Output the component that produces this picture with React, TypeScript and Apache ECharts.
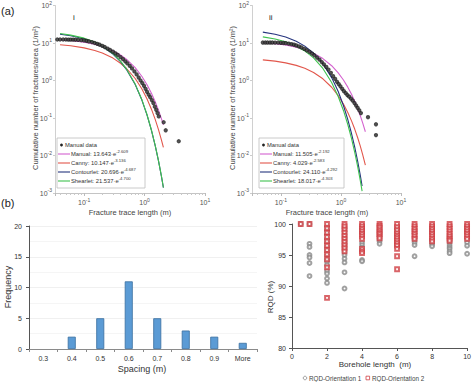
import React, { useEffect, useRef } from "react";
import * as echarts from "echarts";

const FONT = "'Liberation Sans', Arial, Helvetica, sans-serif";

// ---------- (a) i : fracture trace length (m) vs cumulative number / area ----------
const fitLengthsI = [0.04, 0.06, 0.1, 0.15, 0.2, 0.3, 0.4, 0.5, 0.7, 0.9, 1.1, 1.3, 1.5, 1.7, 1.9, 2.05];
const manualFitI = [12.29, 11.67, 10.51, 9.22, 8.1, 6.24, 4.81, 3.7, 2.2, 1.3, 0.773, 0.459, 0.272, 0.162, 0.096, 0.0655];
const cannyFitI = [8.95, 8.41, 7.42, 6.34, 5.42, 3.96, 2.89, 2.12, 1.13, 0.604, 0.322, 0.172, 0.0919, 0.0491, 0.0262, 0.0164];
const contourletFitI = [17.16, 15.62, 12.95, 10.25, 8.11, 5.07, 3.17, 1.99, 0.778, 0.305, 0.119, 0.0467, 0.0183, 0.00717, 0.0028, 0.00139];
const shearletFitI = [17.85, 16.25, 13.46, 10.64, 8.41, 5.26, 3.29, 2.05, 0.802, 0.313, 0.122, 0.0478, 0.0187, 0.0073, 0.00285, 0.0014];
const manualDataI: [number, number][] = [
  [0.036, 12.4], [0.04, 12.4], [0.045, 12.4], [0.05, 12.4], [0.055, 12.3], [0.06, 12.3], [0.066, 12.3],
  [0.072, 12.2], [0.08, 12.1], [0.09, 11.9], [0.1, 11.7], [0.11, 11.4], [0.12, 11.1], [0.135, 10.6],
  [0.15, 10.0], [0.165, 9.5], [0.18, 9.0], [0.2, 8.4], [0.22, 7.8], [0.245, 7.1], [0.27, 6.5], [0.3, 5.9],
  [0.33, 5.3], [0.36, 4.8], [0.4, 4.2], [0.44, 3.7], [0.48, 3.25], [0.52, 2.85], [0.57, 2.45], [0.62, 2.1],
  [0.68, 1.75], [0.74, 1.45], [0.8, 1.2], [0.86, 1.0], [0.92, 0.85], [0.98, 0.72], [1.04, 0.6], [1.1, 0.5],
  [1.17, 0.42], [1.24, 0.36], [1.32, 0.3], [1.4, 0.25], [1.48, 0.2], [1.56, 0.165], [1.64, 0.135],
  [1.72, 0.11], [2.07, 0.077], [2.24, 0.047], [3.68, 0.024],
];

// ---------- (a) ii ----------
const fitLengthsII = [0.05, 0.08, 0.12, 0.18, 0.25, 0.35, 0.5, 0.7, 0.9, 1.1, 1.3, 1.5, 1.7, 1.9, 2.1, 2.3, 2.55];
const manualFitII = [10.31, 9.65, 8.85, 7.75, 6.65, 5.34, 3.84, 2.48, 1.6, 1.03, 0.665, 0.429, 0.277, 0.179, 0.115, 0.0743, 0.0429];
const cannyFitII = [3.54, 3.28, 2.95, 2.53, 2.11, 1.63, 1.108, 0.661, 0.394, 0.235, 0.14, 0.0837, 0.0499, 0.0298, 0.0178, 0.0106, 0.00555];
const steepLengthsII = [0.05, 0.08, 0.12, 0.18, 0.25, 0.35, 0.5, 0.7, 0.9, 1.1, 1.3, 1.5, 1.7, 1.9, 2.1, 2.25];
const contourletFitII = [19.45, 17.11, 14.41, 11.13, 8.25, 5.37, 2.82, 1.196, 0.507, 0.215, 0.0911, 0.0386, 0.01636, 0.00693, 0.00294, 0.00154];
const shearletFitII = [14.53, 12.77, 10.75, 8.3, 6.14, 4.0, 2.1, 0.886, 0.375, 0.159, 0.0671, 0.0284, 0.012, 0.00507, 0.00214, 0.00112];
const manualDataII: [number, number][] = [
  [0.05, 10.3], [0.055, 10.3], [0.06, 10.3], [0.066, 10.3], [0.072, 10.3], [0.08, 10.2], [0.09, 10.2],
  [0.1, 10.1], [0.11, 10.0], [0.12, 9.9], [0.135, 9.6], [0.15, 9.3], [0.165, 9.0], [0.18, 8.6], [0.2, 8.1],
  [0.22, 7.6], [0.245, 7.0], [0.27, 6.4], [0.3, 5.8], [0.33, 5.2], [0.36, 4.7], [0.4, 4.1], [0.44, 3.6],
  [0.48, 3.1], [0.52, 2.7], [0.57, 2.3], [0.62, 1.95], [0.68, 1.6], [0.74, 1.3], [0.8, 1.1], [0.86, 0.92],
  [0.92, 0.8], [0.98, 0.7], [1.05, 0.6], [1.12, 0.52], [1.2, 0.46], [1.28, 0.41], [1.37, 0.37], [1.47, 0.33],
  [1.57, 0.29], [1.68, 0.25], [1.79, 0.215], [1.9, 0.185], [2.02, 0.16], [2.15, 0.135], [2.82, 0.105],
  [3.83, 0.068], [3.83, 0.035],
];

// ---------- (b) left : spacing histogram ----------
const spacingCategories = ["0.3", "0.4", "0.5", "0.6", "0.7", "0.8", "0.9", "More"];
const spacingFrequency = [0, 2, 5, 11, 5, 3, 2, 1];

// ---------- (b) right : RQD vs borehole length ----------
const boreholeLengths = [0.5, 1, 2, 3, 4, 5, 6, 7, 8, 9, 10];
const rqdOrientation1 = [
  [100],
  [100, 96.8, 96.3, 95.0, 94.6, 93.7, 91.6],
  [99.6, 99.0, 98.3, 97.6, 97.0, 96.4, 95.8, 95.0, 94.3, 93.9, 93.4, 92.4, 92.0, 91.2, 90.5],
  [99.3, 98.8, 98.2, 97.7, 97.2, 96.8, 96.4, 96.0, 95.5, 95.0, 94.4, 93.8, 92.2, 89.6],
  [99.2, 98.6, 97.0, 96.6, 96.2, 94.2, 94.0],
  [99.0, 98.5, 98.0, 97.5, 97.2, 96.8],
  [99.2, 98.7, 98.2, 97.6, 97.0, 96.6],
  [99.0, 98.5, 97.8, 97.4, 97.0, 96.6, 94.8],
  [99.4, 99.0, 98.5, 97.5, 97.0, 96.7, 96.4],
  [98.2, 97.8, 97.4, 97.0, 96.6, 96.3, 96.0, 95.6, 95.3],
  [99.5, 99.0, 98.6, 97.6, 97.0, 96.5, 95.2],
];
const rqdOrientation2 = [
  [100],
  [100],
  [100, 99.3, 98.6, 97.9, 97.2, 96.5, 95.8, 95.1, 94.3, 93.0, 88.1],
  [100, 99.6, 99.1, 98.6, 98.1, 97.6, 97.1, 96.6, 96.1, 95.6],
  [100, 99.6, 99.2, 98.8, 98.4, 98.0, 97.6, 96.0, 95.6, 95.3],
  [100, 99.7, 99.4, 99.0, 98.7, 98.4, 98.0, 97.7],
  [100, 99.5, 99.0, 98.5, 98.1, 97.7, 97.3, 96.9, 96.5, 96.0, 94.8, 92.7],
  [100, 99.6, 99.2, 98.8, 98.4, 98.0, 97.6],
  [100, 99.6, 99.2, 98.8, 98.4, 98.0, 97.6, 97.2],
  [100, 99.6, 99.2, 98.8, 98.4, 98.0, 97.6, 97.3],
  [100, 99.6, 99.2, 98.8, 98.4, 98.0, 97.6],
];

const COL_MANUAL = "#d462cf";
const COL_CANNY = "#e2574c";
const COL_CONTOURLET = "#26357e";
const COL_SHEARLET = "#3fc24f";

const pairs = (xs: number[], ys: number[]) => ys.map((y, i) => [xs[i], y]);
const flatten = (lists: number[][]) => {
  const out: number[][] = [];
  lists.forEach((vals, i) => vals.forEach((v) => out.push([boreholeLengths[i], v])));
  return out;
};

const powLabel = (v: number) => {
  const n = Math.log10(v);
  const r = Math.round(n);
  if (Math.abs(n - r) > 1e-6) return "";
  return `{b|10}{s|${r}}`;
};

const powRich = {
  b: { fontSize: 7, color: "#555", fontFamily: FONT, lineHeight: 11 },
  s: { fontSize: 5, color: "#555", fontFamily: FONT, verticalAlign: "top", lineHeight: 5 },
};

function logX(gridIndex: number) {
  return {
    type: "log",
    logBase: 10,
    gridIndex,
    min: 0.033,
    max: 10,
    axisLine: { show: true, lineStyle: { color: "#c4c4c4", width: 1 } },
    axisTick: { show: true, length: 3, lineStyle: { color: "#bbb" } },
    minorTick: { show: true, splitNumber: 9, length: 2, lineStyle: { color: "#c8c8c8" } },
    splitLine: { show: false },
    axisLabel: { formatter: powLabel, rich: powRich, margin: 4, showMinLabel: false },
  };
}
function logY(gridIndex: number) {
  return {
    type: "log",
    logBase: 10,
    gridIndex,
    min: 0.001,
    max: 100,
    axisLine: { show: true, lineStyle: { color: "#d0d0d0", width: 1 } },
    axisTick: { show: true, length: 2, lineStyle: { color: "#ccc" } },
    splitLine: { show: false },
    axisLabel: { formatter: powLabel, rich: powRich, margin: 3 },
  };
}

const fitLine = (name: string, data: number[][], color: string, idx: number) => ({
  type: "line",
  name,
  xAxisIndex: idx,
  yAxisIndex: idx,
  data,
  symbol: "none",
  smooth: false,
  lineStyle: { color, width: 1.1 },
  silent: true,
  z: 2,
});

const dataScatter = (data: number[][], idx: number) => ({
  type: "scatter",
  xAxisIndex: idx,
  yAxisIndex: idx,
  data,
  symbol: "emptyCircle",
  symbolSize: 2.3,
  itemStyle: { color: "#1e1e1e", borderColor: "#1e1e1e", borderWidth: 0.7 },
  silent: true,
  z: 3,
});

const txt = (x: number, y: number, text: string, o: any = {}) => ({
  type: "text",
  x,
  y,
  rotation: o.rot || 0,
  silent: true,
  z: 10,
  style: {
    text,
    fill: o.color || "#333",
    fontSize: o.size || 8,
    fontFamily: FONT,
    fontWeight: o.weight || "normal",
    align: o.align || "left",
    verticalAlign: o.va || "middle",
    rich: o.rich,
  },
});

const legRich = {
  b: { fontSize: 5.8, fill: "#333", fontFamily: FONT, lineHeight: 9 },
  s: { fontSize: 4.2, fill: "#333", fontFamily: FONT, verticalAlign: "top", lineHeight: 4 },
};

function legend(x0: number, y0: number, w: number, h: number, rows: [string, string, string][]) {
  const children: any[] = [
    { type: "rect", shape: { x: x0, y: y0, width: w, height: h }, style: { fill: "#fff", stroke: "#bdbdbd", lineWidth: 0.8 }, z: 8 },
    { type: "circle", shape: { cx: x0 + 4.5, cy: y0 + 7, r: 1.4 }, style: { fill: "#222" }, z: 9 },
    txt(x0 + 8, y0 + 7, "{b|Manual data}", { rich: legRich }),
  ];
  rows.forEach((r, i) => {
    const y = y0 + 16 + i * 9;
    children.push({ type: "line", shape: { x1: x0 + 1, y1: y, x2: x0 + 13, y2: y }, style: { stroke: r[2], lineWidth: 1.1 }, z: 9 });
    children.push(txt(x0 + 14, y, `{b|${r[0]}}{s|${r[1]}}`, { rich: legRich }));
  });
  return children;
}

export default function App() {
  const ref = useRef<HTMLDivElement>(null);
  useEffect(() => {
    if (!ref.current) return;
    const chart = echarts.init(ref.current, undefined, { renderer: "svg" });

    const option: any = {
      animation: false,
      backgroundColor: "#ffffff",
      textStyle: { fontFamily: FONT },
      grid: [
        { left: 55, top: 4, width: 150, height: 189 },
        { left: 252, top: 4, width: 149, height: 189 },
        { left: 29, top: 226, width: 228, height: 123 },
        { left: 292, top: 224, width: 177, height: 124 },
      ],
      xAxis: [
        logX(0),
        logX(1),
        {
          type: "category",
          gridIndex: 2,
          data: spacingCategories,
          axisLine: { lineStyle: { color: "#8a8a8a" } },
          axisTick: { show: true, length: 3, lineStyle: { color: "#8a8a8a" } },
          axisLabel: { color: "#333", fontSize: 7, margin: 6, fontFamily: FONT },
        },
        {
          type: "value",
          gridIndex: 3,
          min: 0,
          max: 10,
          interval: 2,
          axisLine: { lineStyle: { color: "#555" } },
          axisTick: { show: true, length: 3, inside: false, lineStyle: { color: "#555" } },
          splitLine: { show: false },
          axisLabel: { color: "#333", fontSize: 7, margin: 5, fontFamily: FONT },
        },
      ],
      yAxis: [
        logY(0),
        logY(1),
        {
          type: "value",
          gridIndex: 2,
          min: 0,
          max: 20,
          interval: 5,
          axisLine: { show: true, lineStyle: { color: "#555" } },
          axisTick: { show: true, length: 3, lineStyle: { color: "#555" } },
          splitLine: { show: true, lineStyle: { color: "#ececec", width: 0.8 } },
          minorTick: { show: false, splitNumber: 2 },
          minorSplitLine: { show: true, lineStyle: { color: "#f2f2f2", width: 0.8 } },
          axisLabel: { color: "#333", fontSize: 7, margin: 7, fontFamily: FONT },
        },
        {
          type: "value",
          gridIndex: 3,
          min: 80,
          max: 100,
          interval: 5,
          axisLine: { show: true, lineStyle: { color: "#555" } },
          axisTick: { show: true, length: 3, lineStyle: { color: "#555" } },
          splitLine: { show: false },
          axisLabel: { color: "#333", fontSize: 7, margin: 6, fontFamily: FONT },
        },
      ],
      series: [
        fitLine("Manual", pairs(fitLengthsI, manualFitI), COL_MANUAL, 0),
        fitLine("Canny", pairs(fitLengthsI, cannyFitI), COL_CANNY, 0),
        fitLine("Contourlet", pairs(fitLengthsI, contourletFitI), COL_CONTOURLET, 0),
        fitLine("Shearlet", pairs(fitLengthsI, shearletFitI), COL_SHEARLET, 0),
        dataScatter(manualDataI, 0),
        fitLine("Manual", pairs(fitLengthsII, manualFitII), COL_MANUAL, 1),
        fitLine("Canny", pairs(fitLengthsII, cannyFitII), COL_CANNY, 1),
        fitLine("Contourlet", pairs(steepLengthsII, contourletFitII), COL_CONTOURLET, 1),
        fitLine("Shearlet", pairs(steepLengthsII, shearletFitII), COL_SHEARLET, 1),
        dataScatter(manualDataII, 1),
        {
          type: "bar",
          xAxisIndex: 2,
          yAxisIndex: 2,
          data: spacingFrequency.map((v) => (v === 0 ? { value: v, itemStyle: { borderWidth: 0 } } : v)),
          barWidth: 8,
          itemStyle: { color: "#5b9bd5", borderColor: "#3a6f9f", borderWidth: 0.8 },
          silent: true,
        },
        {
          type: "scatter",
          name: "RQD-Orientation 1",
          xAxisIndex: 3,
          yAxisIndex: 3,
          data: flatten(rqdOrientation1),
          symbol: "emptyCircle",
          symbolSize: 3.8,
          itemStyle: { color: "#8a8a8a", borderColor: "#8a8a8a", borderWidth: 0.7 },
          silent: true,
        },
        {
          type: "scatter",
          name: "RQD-Orientation 2",
          xAxisIndex: 3,
          yAxisIndex: 3,
          data: flatten(rqdOrientation2),
          symbol: "emptyRect",
          symbolSize: 3.8,
          itemStyle: { color: "#cf3f44", borderColor: "#cf3f44", borderWidth: 0.7 },
          silent: true,
        },
      ],
      graphic: [
        txt(1, 11, "(a)", { size: 11, color: "#222" }),
        txt(1, 203, "(b)", { size: 11, color: "#222" }),
        txt(73, 17, "i", { size: 8, color: "#222" }),
        txt(269, 17, "ii", { size: 8, color: "#222" }),
        txt(35, 98, "Cumulative number of fractures/area (1/m²)", { size: 7.5, color: "#444", align: "center", rot: Math.PI / 2 }),
        txt(232, 98, "Cumulative number of fractures/area (1/m²)", { size: 7.5, color: "#444", align: "center", rot: Math.PI / 2 }),
        txt(130, 212, "Fracture trace length (m)", { size: 7.5, color: "#444", align: "center" }),
        txt(327, 212, "Fracture trace length (m)", { size: 7.5, color: "#444", align: "center" }),
        ...legend(57, 138, 88, 50, [
          ["Manual: 13.643·e", "-2.609", COL_MANUAL],
          ["Canny: 10.147·e", "-3.136", COL_CANNY],
          ["Contourlet: 20.696·e", "-4.687", COL_CONTOURLET],
          ["Shearlet: 21.537·e", "-4.700", COL_SHEARLET],
        ]),
        ...legend(259, 138, 85, 50, [
          ["Manual: 11.505·e", "-2.192", COL_MANUAL],
          ["Canny: 4.029·e", "-2.583", COL_CANNY],
          ["Contourlet: 24.110·e", "-4.292", COL_CONTOURLET],
          ["Shearlet: 18.017·e", "-4.303", COL_SHEARLET],
        ]),
        txt(8, 287, "Frequency", { size: 9, color: "#333", align: "center", rot: Math.PI / 2 }),
        txt(142, 369, "Spacing (m)", { size: 9, color: "#333", align: "center" }),
        txt(270, 297, "RQD (%)", { size: 8, color: "#333", align: "center", rot: Math.PI / 2 }),
        txt(375, 364, "Borehole length  (m)", { size: 8, color: "#333", align: "center" }),
        { type: "circle", shape: { cx: 305, cy: 378, r: 1.8 }, style: { fill: "none", stroke: "#8a8a8a", lineWidth: 0.8 }, z: 10 },
        txt(309, 378, "RQD-Orientation 1", { size: 6.3, color: "#444" }),
        { type: "rect", shape: { x: 366, y: 376.2, width: 3.6, height: 3.6 }, style: { fill: "none", stroke: "#cf3f44", lineWidth: 0.8 }, z: 10 },
        txt(372, 378, "RQD-Orientation 2", { size: 6.3, color: "#444" }),
      ],
    };

    chart.setOption(option);
    return () => chart.dispose();
  }, []);

  return (
    <div
      ref={ref}
      style={{ position: "fixed", left: 0, top: 0, width: 474, height: 382, background: "#fff" }}
    />
  );
}
